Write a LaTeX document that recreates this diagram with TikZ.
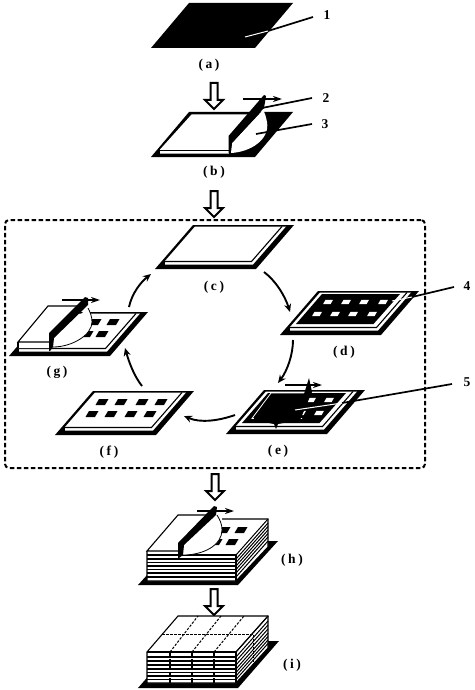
\documentclass[tikz,border=0pt]{standalone}
\usepackage{fontspec}
\setmainfont{Liberation Serif}
\usetikzlibrary{arrows.meta}
\tikzset{
  x=1pt,y=-1pt,
  tag/.style={font=\bfseries\fontsize{13.5}{13.5}\selectfont,inner sep=0pt},
  num/.style={font=\bfseries\fontsize{13.5}{13.5}\selectfont,inner sep=0pt},
  lead/.style={line width=1.7pt,black},
  leadw/.style={line width=1pt,white},
  flow/.style={line width=1.9pt,-{Stealth[length=8pt,width=7pt]}},
  pull/.style={line width=1.6pt,-{Stealth[length=9pt,width=6pt]}},
  thinline/.style={line width=.8pt,black},
  hollow/.style={draw=black,fill=white,line width=2pt,miter limit=4},
  cutdash/.style={line width=1pt,dash pattern=on 2.5pt off 1.5pt}
}
\newcommand\tagtext[1]{(\hspace{2.6pt}#1\hspace{2.6pt})}
\newcommand\hollowdown[3]{\coordinate (#1) at (#2,#3);
  \draw[hollow,shift={(#1)}] (-3.5,0)--(3.5,0)--(3.5,17)--(9,17)--(0,26)--(-9,17)--(-3.5,17)--cycle;}
\newcommand\plate[2]{\begin{scope}[shift={(#1,#2)}]
  \fill[black] (0,0)--(101,0)--(139,-44)--(38,-44)--cycle;
  \fill[white] (10,-4.5)--(98,-4.5)--(131,-42.5)--(40,-42.5)--(10,-8)--cycle;
  \draw[black,line width=1.1pt] (10,-7.5)--(96.5,-7.5)--(127,-42.5);
\end{scope}}
\newcommand\inset[2]{\begin{scope}[shift={(#1,#2)}]
  \fill[black] (16,-11)--(93.5,-11)--(120,-41)--(42,-41)--cycle;
\end{scope}}
\newcommand\cell[2]{\fill[black,shift={(#1,#2)}] (-6.5,3)--(3,3)--(6.5,-3)--(-3,-3)--cycle;}
\newcommand\wcell[2]{\fill[white,shift={(#1,#2)}] (-5,2.2)--(2.5,2.2)--(5,-2.2)--(-2.5,-2.2)--cycle;}
\begin{document}
\begin{tikzpicture}
\useasboundingbox (0,0) rectangle (474,690);
\fill[white] (0,0) rectangle (474,690);

% (a)
\fill[black] (189,3)--(293,3)--(255,48)--(151,48)--cycle;
\coordinate (e1) at (245,37);
\coordinate (m1) at (268,31);
\coordinate (t1) at (313,17);
\node[num] (n1) at (327,15) {1};
\draw[lead] (m1)--(t1);
\draw[leadw] (e1)--(m1);
\node[tag] (la) at (209,65) {\tagtext{a}};
\hollowdown{ar1}{214}{83}

% (b)
\fill[black] (189,112)--(293,112)--(255,157)--(151,157)--cycle;
\fill[white] (191.5,114.5)--(251,114.5)--(229,137)--(229,153.5)--(160,153.5)--(160,149.5)--cycle;
\draw[black,line width=1.1pt] (160,150.5)--(229,150.5);
\fill[white] (231,153) .. controls (250,152) and (270,140) .. (267,122) .. controls (266,117) and (265,113) .. (263,110)--(232,143)--cycle;
\fill[black] (264,95)--(266,96)--(264,108)--(232,143)--(230,153)--(228.5,153)--(228.5,136)--cycle;
\coordinate (p1) at (243,99);
\coordinate (p2) at (282,99);
\draw[pull] (p1)--(p2);
\coordinate (e2) at (262,108);
\coordinate (e3) at (256,134);
\coordinate (t2) at (312,98);
\coordinate (t3) at (312,124);
\node[num] (n2) at (326,98) {2};
\node[num] (n3) at (325,124) {3};
\draw[lead] (e2)--(t2);
\draw[lead] (e3)--(t3);
\node[tag] (lb) at (214,172) {\tagtext{b}};
\hollowdown{ar2}{214}{191}

% dashed frame
\node[draw,line width=2pt,dash pattern=on 4.5pt off 2.5pt,rounded corners=4pt,minimum width=420pt,minimum height=248pt,inner sep=0pt] (frame) at (215,344) {};

% (c)
\plate{155}{269}
\node[tag] (lc) at (214,287) {\tagtext{c}};

% (d)
\plate{280}{335}
\inset{280}{335}
\foreach \cx in {328,346,364,383} {\wcell{\cx}{302}}
\foreach \cx in {317,335,353,372} {\wcell{\cx}{314}}
\coordinate (e4) at (392,301);
\coordinate (m4) at (412,297);
\coordinate (t4) at (454,287);
\node[num] (n4) at (467,286) {4};
\draw[lead] (m4)--(t4);
\draw[leadw] (e4)--(m4);
\node[tag] (ld) at (344,352) {\tagtext{d}};

% (e)
\plate{226}{434}
\inset{226}{434}
\foreach \cx in {311,329} {\wcell{\cx}{400}}
\foreach \cx in {301,319} {\wcell{\cx}{413}}
\draw[white,line width=.8pt] (302,418.5)--(252,418.5)--(271,393)--(310,393);
\fill[black] (254,417.5)--(272,394)--(304,394)--(309,378)--(312,392)--(300,420)--(278,424)--(276,429)--(274,424)--(254,420)--cycle;
\coordinate (p3) at (285,385);
\coordinate (p4) at (322,385);
\draw[pull] (p3)--(p4);
\coordinate (e5) at (295,410);
\coordinate (m5) at (342,403);
\coordinate (t5) at (452,384);
\node[num] (n5) at (467,382) {5};
\draw[lead] (m5)--(t5);
\draw[leadw] (e5)--(m5);
\node[tag] (le) at (278,451) {\tagtext{e}};

% (f)
\plate{55}{435}
\foreach \cx in {102,121,142,161} {\cell{\cx}{402}}
\foreach \cx in {92,111,131,150} {\cell{\cx}{414}}
\node[tag] (lf) at (109,452) {\tagtext{f}};

% (g)
\plate{9}{356}
\foreach \cx in {95,113} {\cell{\cx}{322}}
\foreach \cx in {87,102} {\cell{\cx}{334}}
\fill[white] (18,342)--(48,306)--(80,306)--(52,342)--(52,348)--(18,348)--cycle;
\draw[thinline,line width=1.1pt] (52,342)--(18,342)--(48,306)--(80,306);
\draw[thinline,line width=1.1pt] (18,342)--(18,348);
\fill[white] (53,347) .. controls (72,347) and (92,335) .. (92,322) .. controls (92,316) and (90,312) .. (88,308)--(54,337)--cycle;
\draw[thinline] (53,347) .. controls (72,347) and (92,335) .. (92,322) .. controls (92,316) and (90,312) .. (88,308);
\fill[black] (85,297)--(88,298)--(88,305)--(54,338)--(53,347)--(50,351)--(49,351)--(49,333)--cycle;
\coordinate (p5) at (62,300);
\coordinate (p6) at (100,300);
\draw[pull] (p5)--(p6);
\node[tag] (lg) at (57,372) {\tagtext{g}};

% cycle arrows
\coordinate (c1) at (264,272);
\coordinate (d1) at (290,312);
\coordinate (d2) at (293,340);
\coordinate (e6) at (278,383);
\coordinate (e7) at (235,415);
\coordinate (f1) at (184,416);
\coordinate (f2) at (142,386);
\coordinate (g1) at (125,348);
\coordinate (g2) at (129,307);
\coordinate (c2) at (151,274);
\draw[flow] (c1) .. controls (276,281) and (285,296) .. (d1);
\draw[flow] (d2) .. controls (293,355) and (287,371) .. (e6);
\draw[flow] (e7) .. controls (218,421) and (200,423) .. (f1);
\draw[flow] (f2) .. controls (134,376) and (129,362) .. (g1);
\draw[flow] (g2) .. controls (132,293) and (141,282) .. (c2);

\hollowdown{ar3}{215}{474}

% (h)
\fill[black] (138,585)--(238,585)--(278,541)--(178,541)--cycle;
\fill[white] (147,551)--(178,515)--(224,515)--(222,519)--(268,519)--(268,547)--(236,581)--(147,581)--cycle;
\draw[thinline,line width=1.1pt] (178,551)--(147,551)--(178,515)--(214,515);
\draw[thinline,line width=1.1pt] (222,519)--(268,519)--(268,547)--(236,581)--(147,581)--(147,551);
\foreach \ly in {555,559,562.5,566,569.5,573,577} {\draw[line width=1.1pt] (147,\ly)--(236,\ly);}
\draw[line width=1.1pt] (236,555)--(236,581);
\foreach \ly in {555,559,562.5,566,569.5,573,577} {\draw[line width=1pt] (236,\ly)--(268,\ly-36);}
\cell{241}{530}
\cell{232}{542}
\cell{224}{530}
\cell{216}{542}
\fill[white] (183,555) .. controls (204,555) and (222,545) .. (222,530) .. controls (222,524) and (220,520) .. (217,515)--(184,545)--cycle;
\draw[thinline] (183,555) .. controls (204,555) and (222,545) .. (222,530) .. controls (222,524) and (220,520) .. (217,515);
\fill[black] (214,506)--(217,507)--(216,515)--(184,545)--(183,555)--(179,558)--(178,558)--(178,543)--cycle;
\coordinate (p7) at (197,511);
\coordinate (p8) at (234,511);
\draw[pull] (p7)--(p8);
\node[tag] (lh) at (292,560) {\tagtext{h}};
\hollowdown{ar4}{214}{589}

% (i)
\fill[black] (138,688)--(238,688)--(279,641)--(179,641)--cycle;
\fill[white] (147,652)--(178,616)--(268,616)--(268,648)--(236,683)--(147,683)--cycle;
\draw[thinline,line width=1.1pt] (147,652)--(178,616)--(268,616)--(268,648)--(236,683)--(147,683)--cycle;
\foreach \ly in {652,657,661,665,669,672.5,676,679.5} {\draw[line width=1.1pt] (147,\ly)--(236,\ly);}
\draw[line width=1.1pt] (236,652)--(236,683);
\foreach \ly in {652,657,661,665,669,672.5,676,679.5} {\draw[line width=1pt] (236,\ly)--(268,\ly-36);}
\draw[line width=1.1pt] (236,652)--(268,616);
\foreach \fx/\tx in {170/198,192/221,214/244} {
  \draw[cutdash] (\fx,652)--(\tx,616);
  \draw[line width=1.4pt,dash pattern=on 5pt off 1.5pt] (\fx,652)--(\fx,683);
}
\draw[cutdash] (162,634)--(253,634)--(253,666);
\node[tag] (li) at (292,665) {\tagtext{i}};
\end{tikzpicture}
\end{document}
